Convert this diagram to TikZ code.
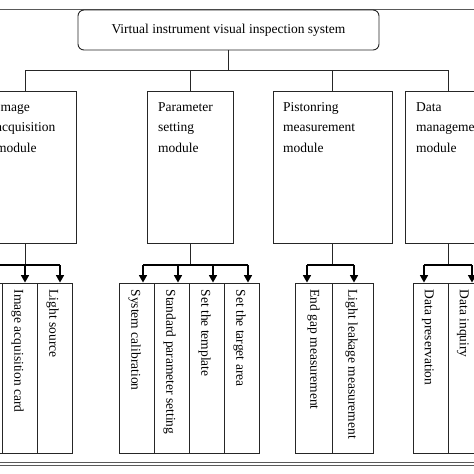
\documentclass[tikz,border=0pt]{standalone}
\usepackage{fontspec}
\setmainfont{Liberation Serif}
\usetikzlibrary{arrows.meta}
\begin{document}
\begin{tikzpicture}[x=1pt,y=-1pt,
  every node/.style={font=\fontsize{13.5}{20.5}\selectfont, text=black},
  ln/.style={draw=black!85, line width=0.9pt},
  frame/.style={draw=black!65, line width=0.8pt},
  modbox/.style={ln, minimum height=152pt, inner sep=0pt},
  subbox/.style={ln, minimum height=170pt, minimum width=35pt, inner sep=0pt},
  modtext/.style={anchor=north west, inner sep=0pt, align=left},
  subtext/.style={rotate=-90, anchor=west, inner sep=0pt},
  arr/.style={draw=black, line width=1.5pt, -{Triangle[width=8pt,length=7.5pt]}},
  bar/.style={draw=black, line width=1.5pt}]
\useasboundingbox (0,0) rectangle (474,474);
\begin{scope}
\clip (0,0) rectangle (474,474);
\draw[frame] (0,9.5) -- (474,9.5);
\draw[frame] (0,462.8) -- (474,462.8);
\draw[frame] (0,465.3) -- (474,465.3);

% title
\node[ln, rounded corners=6pt, minimum width=301pt, minimum height=40pt, inner sep=0pt, fill=white] (top) at (228.5,30) {Virtual instrument visual inspection system};

% modules
\node[modbox, minimum width=102pt] (m1) at (25,167) {};
\node[modbox, minimum width=86pt] (m2) at (190,167) {};
\node[modbox, minimum width=119pt] (m3) at (332.5,167) {};
\node[modbox, minimum width=86pt] (m4) at (448,167) {};

\node[modtext] (m1t) at (-4,102) {Image\\acquisition\\module};
\node[modtext] (m2t) at (158,102) {Parameter\\setting\\module};
\node[modtext] (m3t) at (283,102) {Pistonring\\measurement\\module};
\node[modtext] (m4t) at (416,102) {Data\\management\\module};

\draw[ln] (top.south) -- ++(0,20) coordinate (hub);
\draw[ln] (hub -| m1.north) -- (hub -| m4.north);
\foreach \m in {m1,m2,m3,m4} \draw[ln] (hub -| \m.north) -- (\m.north);

% sub boxes
\node[subbox] (s10) at (-15.5,368) {};
\node[subbox] (s11) at (19.5,368) {};
\node[subbox] (s12) at (54.5,368) {};
\node[subbox] (s21) at (136.5,368) {};
\node[subbox] (s22) at (171.5,368) {};
\node[subbox] (s23) at (206.5,368) {};
\node[subbox] (s24) at (241.5,368) {};
\node[subbox, minimum width=37pt] (s31) at (313.5,368) {};
\node[subbox, minimum width=41pt] (s32) at (352.5,368) {};
\node[subbox] (s41) at (430.5,368) {};
\node[subbox] (s42) at (465.5,368) {};

\node[subtext] (t11) at (17.5,289.5) {Image acquisition card};
\node[subtext] (t12) at (52.5,289.5) {Light source};
\node[subtext] (t21) at (134.5,289.5) {System calibration};
\node[subtext] (t22) at (169.5,289.5) {Standard parameter setting};
\node[subtext] (t23) at (204.5,289.5) {Set the template};
\node[subtext] (t24) at (239.5,289.5) {Set the target area};
\node[subtext] (t31) at (313.5,289.5) {End gap measurement};
\node[subtext] (t32) at (351.5,289.5) {Light leakage measurement};
\node[subtext] (t41) at (428,289.5) {Data preservation};
\node[subtext] (t42) at (463,289.5) {Data inquiry};

% group 1
\coordinate (a10) at (-10,265);
\coordinate (a11) at (25,265);
\coordinate (a12) at (60,265);
\draw[ln] (m1.south) -- (a11);
\draw[bar] (a10) -- (a12);
\draw[arr] (a10) -- (a10 |- s10.north);
\draw[arr] (a11) -- (a11 |- s11.north);
\draw[arr] (a12) -- (a12 |- s12.north);

% group 2
\coordinate (a21) at (143,265);
\coordinate (a22) at (178,265);
\coordinate (a23) at (213,265);
\coordinate (a24) at (248,265);
\draw[ln] (m2.south) -- (m2.south |- a21);
\draw[bar] (a21) -- (a24);
\draw[arr] (a21) -- (a21 |- s21.north);
\draw[arr] (a22) -- (a22 |- s22.north);
\draw[arr] (a23) -- (a23 |- s23.north);
\draw[arr] (a24) -- (a24 |- s24.north);

% group 3
\coordinate (a31) at (307,265);
\coordinate (a32) at (354,265);
\draw[ln] (m3.south) -- (m3.south |- a31);
\draw[bar] (a31) -- (a32);
\draw[arr] (a31) -- (a31 |- s31.north);
\draw[arr] (a32) -- (a32 |- s32.north);

% group 4
\coordinate (a41) at (424,265);
\coordinate (a42) at (472,265);
\draw[ln] (m4.south) -- (m4.south |- a41);
\draw[bar] (a41) -- (a42);
\draw[arr] (a41) -- (a41 |- s41.north);
\draw[arr] (a42) -- (a42 |- s42.north);
\end{scope}
\end{tikzpicture}
\end{document}
